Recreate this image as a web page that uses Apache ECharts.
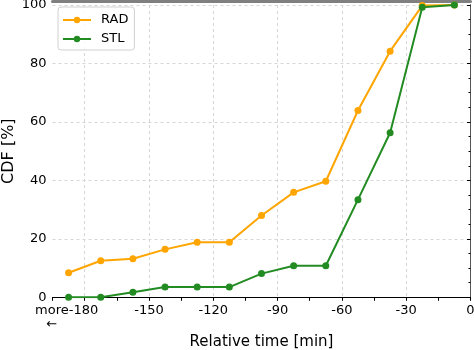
<!DOCTYPE html>
<html>
<head>
<meta charset="utf-8">
<script src="https://cdn.jsdelivr.net/npm/echarts@6/dist/echarts.min.js"></script>
<style>
    html, body { margin: 0; padding: 0; background: #fff; }
    #cdf_chart { width: 474px; height: 350px; }
</style>
</head>
<body>
<div id="cdf_chart"></div>
<script>
// bin centres, 15 min bins
let times = [-187.5, -172.5, -157.5, -142.5, -127.5, -112.5, -97.5, -82.5, -67.5, -52.5, -37.5, -22.5, -7.5];
let radCdf = [8.4, 12.5, 13.2, 16.4, 18.8, 18.8, 28.0, 35.9, 39.7, 63.9, 84.2, 99.8, 100];
let stlCdf = [0, 0, 1.7, 3.5, 3.5, 3.5, 8.1, 10.8, 10.8, 33.4, 56.3, 99.2, 100];
let xTickValues = [-180, -150, -120, -90, -60, -30, 0];
let xTickLabels = ['more-180', '-150', '-120', '-90', '-60', '-30', '0'];

let myChart = echarts.init(document.getElementById('cdf_chart'));
let font = 'DejaVu Sans';

function pairs(ys) {
    return times.map(function (t, i) { return [t, ys[i]]; });
}

let option = {
    animation: false,
    textStyle: { fontFamily: font },
    grid: {
        left: 52.5,
        right: 3.5,
        top: 5,
        bottom: 52.7,
        outerBoundsMode: 'none'
    },
    legend: {
        orient: 'vertical',
        left: 58,
        top: 7,
        padding: [6, 6, 4, 4],
        itemGap: 5,
        itemWidth: 28,
        itemHeight: 8,
        backgroundColor: 'rgba(255,255,255,0.85)',
        borderColor: '#d0d0d0',
        borderWidth: 1,
        borderRadius: 3,
        textStyle: { fontFamily: font, fontSize: 13, color: '#000', lineHeight: 14, padding: [0, 0, 0, 5] },
        data: ['RAD', 'STL']
    },
    xAxis: [{
        type: 'value',
        min: -195,
        max: 0,
        interval: 15,
        name: 'Relative time [min]',
        nameLocation: 'middle',
        nameGap: 37,
        nameMoveOverlap: false,
        nameTextStyle: { fontFamily: font, fontSize: 15, color: '#000' },
        axisLine: { lineStyle: { color: '#000', width: 1 } },
        axisTick: { show: true, length: 3.5, lineStyle: { color: '#000' } },
        axisLabel: {
            margin: 6,
            fontFamily: font,
            fontSize: 13,
            color: '#000',
            lineHeight: 14,
            showMinLabel: true,
            showMaxLabel: true,
            formatter: function (v) {
                let i = xTickValues.indexOf(v);
                if (i < 0) return '';
                if (i === 0) return '{m|' + xTickLabels[0] + '}\n{a|←}';
                return xTickLabels[i];
            },
            rich: {
                m: { fontFamily: font, fontSize: 13, color: '#000', lineHeight: 14, padding: [0, 36, 0, 0] },
                a: { fontFamily: font, fontSize: 13, color: '#000', lineHeight: 14, padding: [0, 66, 0, 0] }
            }
        },
        splitLine: {
            show: true,
            lineStyle: { type: [3, 3], color: ['rgba(0,0,0,0)', '#d6d6d6'], width: 1 }
        }
    }, {
        type: 'value',
        min: -195,
        max: 0,
        position: 'top',
        offset: 3.5,
        axisLine: { onZero: false, lineStyle: { color: '#808080', width: 3 } },
        axisTick: { show: false },
        axisLabel: { show: false },
        splitLine: { show: false }
    }],
    yAxis: [{
        type: 'value',
        min: 0,
        max: 100,
        interval: 20,
        name: 'CDF [%]',
        nameLocation: 'middle',
        nameGap: 36,
        nameMoveOverlap: false,
        nameTextStyle: { fontFamily: font, fontSize: 16, color: '#000' },
        axisLine: { show: true, lineStyle: { color: '#000', width: 1 } },
        axisTick: { show: true, length: 3.5, lineStyle: { color: '#000' } },
        minorTick: { show: true, splitNumber: 4, length: 2, lineStyle: { color: '#000' } },
        axisLabel: { margin: 6, fontFamily: font, fontSize: 13, color: '#000' },
        splitLine: { show: true, lineStyle: { type: [3, 3], color: '#d6d6d6', width: 1 } }
    }, {
        type: 'value',
        min: 0,
        max: 100,
        position: 'right',
        axisLine: { show: true, onZero: false, lineStyle: { color: '#555', width: 1 } },
        axisTick: { show: false },
        axisLabel: { show: false },
        splitLine: { show: false }
    }],
    series: [{
        name: 'RAD',
        type: 'line',
        color: '#FFA500',
        symbol: 'circle',
        symbolSize: 7,
        lineStyle: { width: 2 },
        data: pairs(radCdf)
    }, {
        name: 'STL',
        type: 'line',
        color: '#228B22',
        symbol: 'circle',
        symbolSize: 7,
        lineStyle: { width: 2 },
        data: pairs(stlCdf)
    }]
};
myChart.setOption(option);
</script>
</body>
</html>
